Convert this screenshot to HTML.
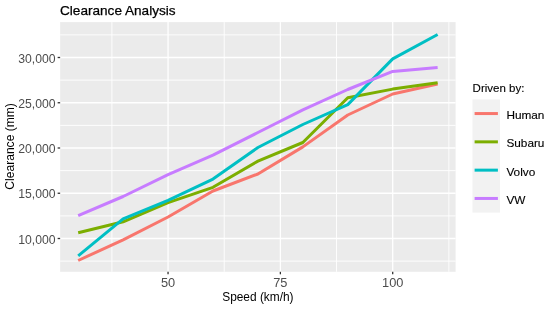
<!DOCTYPE html>
<html><head><meta charset="utf-8"><title>Clearance Analysis</title>
<style>
html,body{margin:0;padding:0;background:#fff;width:550px;height:309px;overflow:hidden}
svg{display:block;font-family:"Liberation Sans", Arial, sans-serif}
text{stroke-width:0.2px}
.k{fill:#000}
.t{fill:#000;stroke:#000;stroke-width:0.25px}
.l{fill:#000;stroke:#000;stroke-width:0.12px}
.g{fill:#4D4D4D}
</style></head><body>
<svg width="550" height="309" viewBox="0 0 550 309">
<rect x="0" y="0" width="550" height="309" fill="#FFFFFF"/>
<rect x="60.15" y="22.1" width="395.45" height="249.7" fill="#EBEBEB"/>
<line x1="60.15" x2="455.6" y1="261.12" y2="261.12" stroke="#FFFFFF" stroke-width="0.9"/>
<line x1="60.15" x2="455.6" y1="215.88" y2="215.88" stroke="#FFFFFF" stroke-width="0.9"/>
<line x1="60.15" x2="455.6" y1="170.62" y2="170.62" stroke="#FFFFFF" stroke-width="0.9"/>
<line x1="60.15" x2="455.6" y1="125.37" y2="125.37" stroke="#FFFFFF" stroke-width="0.9"/>
<line x1="60.15" x2="455.6" y1="80.12" y2="80.12" stroke="#FFFFFF" stroke-width="0.9"/>
<line x1="60.15" x2="455.6" y1="34.87" y2="34.87" stroke="#FFFFFF" stroke-width="0.9"/>
<line y1="22.1" y2="271.8" x1="111.89" x2="111.89" stroke="#FFFFFF" stroke-width="0.9"/>
<line y1="22.1" y2="271.8" x1="224.21" x2="224.21" stroke="#FFFFFF" stroke-width="0.9"/>
<line y1="22.1" y2="271.8" x1="336.54" x2="336.54" stroke="#FFFFFF" stroke-width="0.9"/>
<line y1="22.1" y2="271.8" x1="448.86" x2="448.86" stroke="#FFFFFF" stroke-width="0.9"/>
<line x1="60.15" x2="455.6" y1="238.5" y2="238.5" stroke="#FFFFFF" stroke-width="1.3"/>
<line x1="60.15" x2="455.6" y1="193.25" y2="193.25" stroke="#FFFFFF" stroke-width="1.3"/>
<line x1="60.15" x2="455.6" y1="148" y2="148" stroke="#FFFFFF" stroke-width="1.3"/>
<line x1="60.15" x2="455.6" y1="102.75" y2="102.75" stroke="#FFFFFF" stroke-width="1.3"/>
<line x1="60.15" x2="455.6" y1="57.5" y2="57.5" stroke="#FFFFFF" stroke-width="1.3"/>
<line y1="22.1" y2="271.8" x1="168.05" x2="168.05" stroke="#FFFFFF" stroke-width="1.3"/>
<line y1="22.1" y2="271.8" x1="280.38" x2="280.38" stroke="#FFFFFF" stroke-width="1.3"/>
<line y1="22.1" y2="271.8" x1="392.7" x2="392.7" stroke="#FFFFFF" stroke-width="1.3"/>
<polyline points="78.19,260.5 123.12,239.8 168.05,217 212.98,191 257.91,174 302.84,146.9 347.77,115 392.7,94 437.63,84.02" fill="none" stroke="#F8766D" stroke-width="3.0" stroke-linejoin="round" stroke-linecap="butt"/>
<polyline points="78.19,232.7 123.12,221.8 168.05,202.7 212.98,187.3 257.91,161.1 302.84,142.5 347.77,97.7 392.7,89.1 437.63,82.8" fill="none" stroke="#7CAE00" stroke-width="3.0" stroke-linejoin="round" stroke-linecap="butt"/>
<polyline points="78.19,255.8 123.12,218.9 168.05,200.3 212.98,179.1 257.91,147.5 302.84,124.5 347.77,104.6 392.7,58.9 437.63,34.5" fill="none" stroke="#00BFC4" stroke-width="3.0" stroke-linejoin="round" stroke-linecap="butt"/>
<polyline points="78.19,215.7 123.12,196.5 168.05,174.6 212.98,155.2 257.91,132.5 302.84,109.9 347.77,89.5 392.7,71.4 437.63,67.5" fill="none" stroke="#C77CFF" stroke-width="3.0" stroke-linejoin="round" stroke-linecap="butt"/>
<line x1="57.65" x2="60.15" y1="238.5" y2="238.5" stroke="#333333" stroke-width="1.3"/>
<line x1="57.65" x2="60.15" y1="193.25" y2="193.25" stroke="#333333" stroke-width="1.3"/>
<line x1="57.65" x2="60.15" y1="148" y2="148" stroke="#333333" stroke-width="1.3"/>
<line x1="57.65" x2="60.15" y1="102.75" y2="102.75" stroke="#333333" stroke-width="1.3"/>
<line x1="57.65" x2="60.15" y1="57.5" y2="57.5" stroke="#333333" stroke-width="1.3"/>
<line y1="271.8" y2="274.3" x1="168.05" x2="168.05" stroke="#333333" stroke-width="1.3"/>
<line y1="271.8" y2="274.3" x1="280.38" x2="280.38" stroke="#333333" stroke-width="1.3"/>
<line y1="271.8" y2="274.3" x1="392.7" x2="392.7" stroke="#333333" stroke-width="1.3"/>
<text x="18.2" y="243.6" textLength="37.4" lengthAdjust="spacingAndGlyphs" font-size="12.8" class="g">10,000</text>
<text x="18.2" y="198.35" textLength="37.4" lengthAdjust="spacingAndGlyphs" font-size="12.8" class="g">15,000</text>
<text x="18.2" y="153.1" textLength="37.4" lengthAdjust="spacingAndGlyphs" font-size="12.8" class="g">20,000</text>
<text x="18.2" y="107.85" textLength="37.4" lengthAdjust="spacingAndGlyphs" font-size="12.8" class="g">25,000</text>
<text x="18.2" y="62.6" textLength="37.4" lengthAdjust="spacingAndGlyphs" font-size="12.8" class="g">30,000</text>
<text x="168.05" y="286.9" text-anchor="middle" font-size="12.8" class="g">50</text>
<text x="280.38" y="286.9" text-anchor="middle" font-size="12.8" class="g">75</text>
<text x="392.7" y="286.9" text-anchor="middle" font-size="12.8" class="g">100</text>
<text x="257.9" y="301.4" text-anchor="middle" font-size="11.9" class="k">Speed (km/h)</text>
<text transform="translate(14,146.4) rotate(-90)" x="0" y="0" text-anchor="middle" font-size="12.07" class="k">Clearance (mm)</text>
<text x="60" y="15.4" font-size="13.6" class="t">Clearance Analysis</text>
<text x="472.6" y="92.3" font-size="11.5" class="l">Driven by:</text>
<rect x="472.5" y="99.4" width="27.5" height="113.2" fill="#F2F2F2"/>
<line x1="474.6" x2="497.9" y1="113.55" y2="113.55" stroke="#F8766D" stroke-width="3.0"/>
<text x="506.4" y="119.05" font-size="11.8" class="l">Human</text>
<line x1="474.6" x2="497.9" y1="141.85" y2="141.85" stroke="#7CAE00" stroke-width="3.0"/>
<text x="506.4" y="147.35" font-size="11.8" class="l">Subaru</text>
<line x1="474.6" x2="497.9" y1="170.15" y2="170.15" stroke="#00BFC4" stroke-width="3.0"/>
<text x="506.4" y="175.65" font-size="11.8" class="l">Volvo</text>
<line x1="474.6" x2="497.9" y1="198.45" y2="198.45" stroke="#C77CFF" stroke-width="3.0"/>
<text x="506.4" y="203.95" font-size="11.8" class="l">VW</text>
</svg>
</body></html>
